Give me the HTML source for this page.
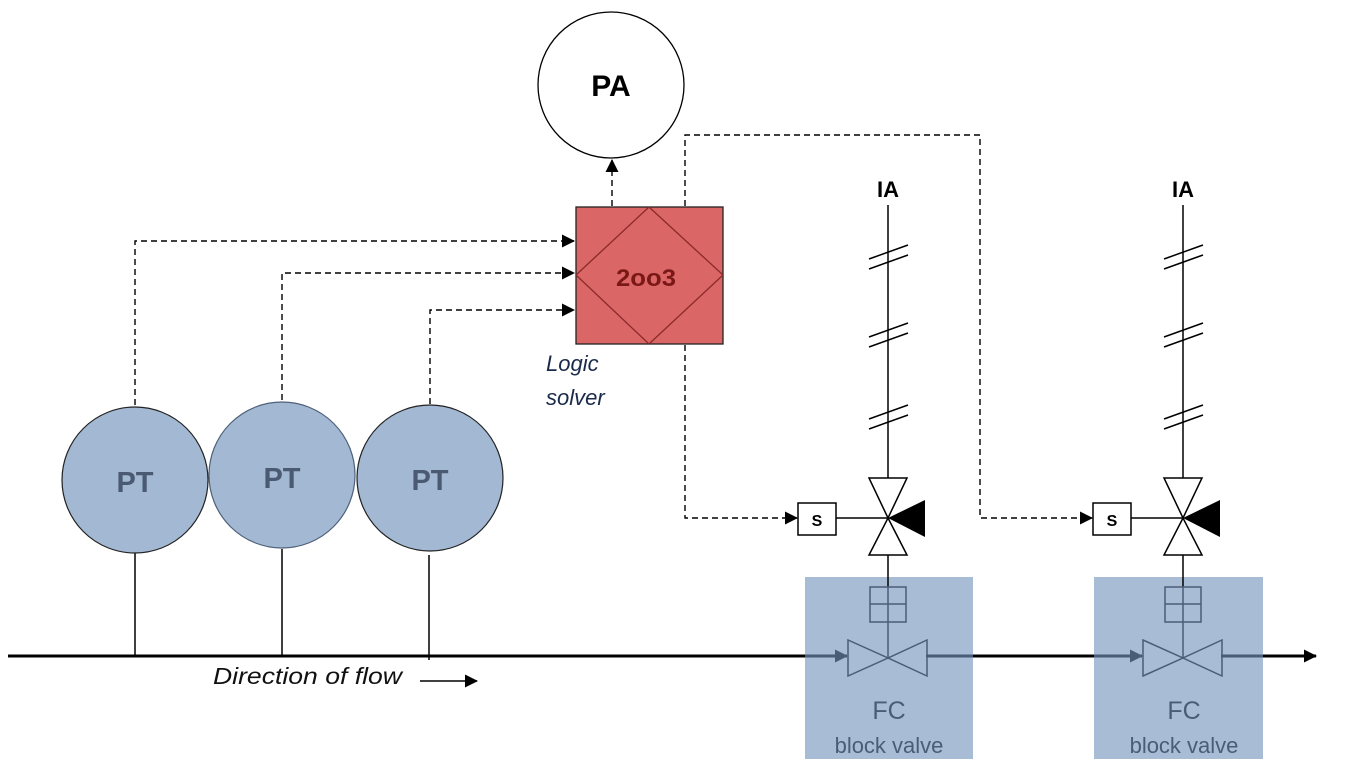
<!DOCTYPE html>
<html><head><meta charset="utf-8"><style>
html,body{margin:0;padding:0;background:#fff;width:1350px;height:759px;overflow:hidden}
svg{display:block}
text{font-family:"Liberation Sans",sans-serif}
</style></head><body>
<svg width="1350" height="759" viewBox="0 0 1350 759" xmlns="http://www.w3.org/2000/svg">
<defs>
<marker id="ah" markerWidth="13" markerHeight="13" refX="12" refY="6.5" orient="auto" markerUnits="userSpaceOnUse">
<path d="M0,0 L13,6.5 L0,13 Z" fill="#000"/></marker>
<marker id="ahb" markerWidth="13" markerHeight="13" refX="12" refY="6.5" orient="auto" markerUnits="userSpaceOnUse">
<path d="M0,0 L13,6.5 L0,13 Z" fill="#000"/></marker>
<marker id="ahc" markerWidth="13" markerHeight="13" refX="12" refY="6.5" orient="auto" markerUnits="userSpaceOnUse">
<path d="M0,0 L13,6.5 L0,13 Z" fill="#4a5d78"/></marker>
</defs>

<rect x="805" y="577" width="168" height="182" fill="#a8bcd6"/>
<rect x="1094" y="577" width="169" height="182" fill="#a8bcd6"/>

<line x1="8" y1="656" x2="805" y2="656" stroke="#000" stroke-width="3"/>
<line x1="805" y1="656" x2="847" y2="656" stroke="#4a5d78" stroke-width="3" marker-end="url(#ahc)"/>
<line x1="926" y1="656" x2="973" y2="656" stroke="#4a5d78" stroke-width="3"/>
<line x1="973" y1="656" x2="1094" y2="656" stroke="#000" stroke-width="3"/>
<line x1="1094" y1="656" x2="1142" y2="656" stroke="#4a5d78" stroke-width="3" marker-end="url(#ahc)"/>
<line x1="1221" y1="656" x2="1263" y2="656" stroke="#4a5d78" stroke-width="3"/>
<line x1="1263" y1="656" x2="1316" y2="656" stroke="#000" stroke-width="3" marker-end="url(#ahb)"/>

<g stroke="#000" stroke-width="1.5">
<line x1="135" y1="552" x2="135" y2="656"/>
<line x1="282" y1="549" x2="282" y2="656"/>
<line x1="429" y1="555" x2="429" y2="660"/>
</g>

<circle cx="135" cy="480" r="73" fill="#a2b8d3" stroke="#222" stroke-width="1.2"/>
<circle cx="282" cy="475" r="73" fill="#a2b8d3" stroke="#4f6078" stroke-width="1.2"/>
<circle cx="430" cy="478" r="73" fill="#a2b8d3" stroke="#222" stroke-width="1.2"/>
<g font-size="29" font-weight="bold" fill="#4a5a72" text-anchor="middle">
<text x="135" y="492">PT</text>
<text x="282" y="488">PT</text>
<text x="430" y="490">PT</text>
</g>

<g fill="none" stroke="#000" stroke-width="1.4" stroke-dasharray="6,4">
<polyline points="135,405 135,241 574,241" marker-end="url(#ah)"/>
<polyline points="282,400 282,273 574,273" marker-end="url(#ah)"/>
<polyline points="430,404 430,310 574,310" marker-end="url(#ah)"/>
<line x1="612" y1="206" x2="612" y2="160" marker-end="url(#ah)"/>
<polyline points="685,206 685,135 980,135 980,518 1092,518" marker-end="url(#ah)"/>
<polyline points="685,345 685,518 797,518" marker-end="url(#ah)"/>
</g>

<circle cx="611" cy="85" r="73" fill="#fff" stroke="#000" stroke-width="1.3"/>
<text x="611" y="96" font-size="30" font-weight="bold" text-anchor="middle">PA</text>

<rect x="576" y="207" width="147" height="137" fill="#db6666" stroke="#222" stroke-width="1.3"/>
<polygon points="649,207 723,275 649,344 576,275" fill="none" stroke="#8a2a2a" stroke-width="1.3"/>
<text x="646" y="286" font-size="24" fill="#7a1818" text-anchor="middle" font-weight="bold" textLength="60" lengthAdjust="spacingAndGlyphs">2oo3</text>
<text x="546" y="371" font-size="22" font-style="italic" fill="#1a2a4a">Logic</text>
<text x="546" y="405" font-size="22" font-style="italic" fill="#1a2a4a">solver</text>

<text x="213" y="684" font-size="23" font-style="italic" fill="#111" textLength="189" lengthAdjust="spacingAndGlyphs">Direction of flow</text>
<line x1="420" y1="681" x2="477" y2="681" stroke="#000" stroke-width="1.5" marker-end="url(#ah)"/>

<g id="v1">
<text x="888" y="197" font-size="22" font-weight="bold" text-anchor="middle">IA</text>
<line x1="888" y1="205" x2="888" y2="478" stroke="#000" stroke-width="1.5"/>
<g stroke="#000" stroke-width="1.5">
<line x1="869" y1="259" x2="908" y2="245"/><line x1="869" y1="269" x2="908" y2="255"/>
<line x1="869" y1="337" x2="908" y2="323"/><line x1="869" y1="347" x2="908" y2="333"/>
<line x1="869" y1="419" x2="908" y2="405"/><line x1="869" y1="429" x2="908" y2="415"/>
</g>
<polygon points="869,478 907,478 888,518" fill="#fff" stroke="#000" stroke-width="1.5"/>
<polygon points="869,555 907,555 888,518" fill="#fff" stroke="#000" stroke-width="1.5"/>
<polygon points="888,518 925,500 925,537" fill="#000"/>
<line x1="836" y1="518" x2="888" y2="518" stroke="#000" stroke-width="1.5"/>
<rect x="798" y="503" width="38" height="32" fill="#fff" stroke="#000" stroke-width="1.5"/>
<text x="817" y="526" font-size="16" font-weight="bold" text-anchor="middle">S</text>
<line x1="888" y1="555" x2="888" y2="587" stroke="#000" stroke-width="1.5"/>
<g stroke="#4a5d78" stroke-width="1.5" fill="none">
<rect x="870" y="587" width="36" height="35"/>
<line x1="870" y1="604" x2="906" y2="604"/>
<line x1="888" y1="587" x2="888" y2="658"/>
<polygon points="848,640 848,676 888,658"/>
<polygon points="927,640 927,676 888,658"/>
</g>
<text x="889" y="719" font-size="25" fill="#4a5d78" text-anchor="middle">FC</text>
<text x="889" y="753" font-size="22" fill="#4a5d78" text-anchor="middle">block valve</text>
</g>
<use href="#v1" x="295"/>
</svg>
</body></html>
